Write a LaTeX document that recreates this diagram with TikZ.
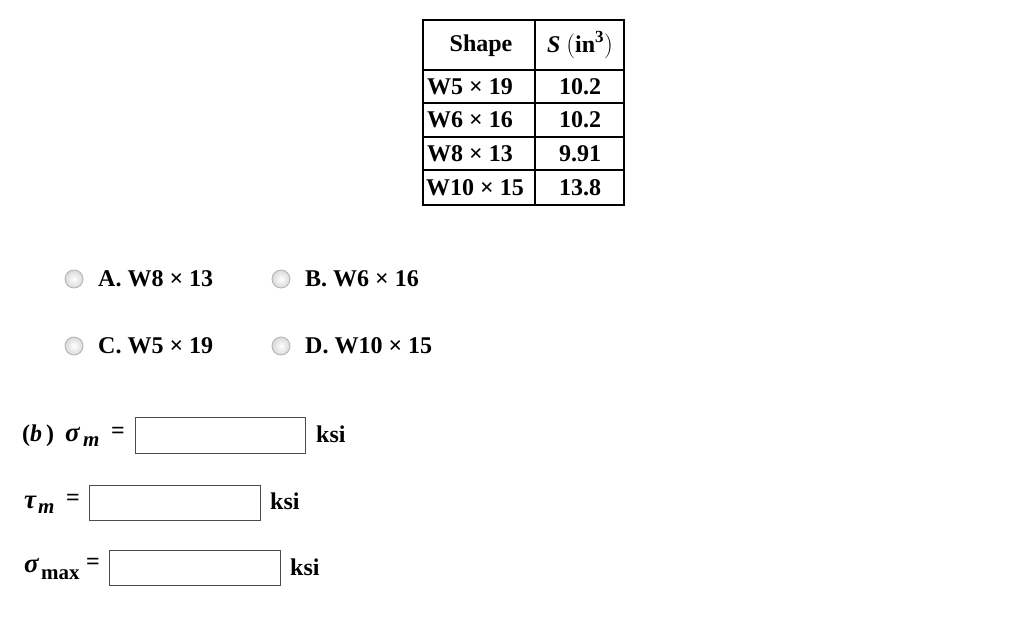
\documentclass[tikz,border=0pt]{standalone}
\usepackage{fontspec}
\setmainfont{Liberation Serif}
\begin{document}
\begin{tikzpicture}[x=1pt,y=-1pt,
  every node/.style={font=\bfseries\fontsize{24}{28}\selectfont,inner sep=0pt},
  tx/.style={anchor=west},
  sub/.style={anchor=west,font=\bfseries\fontsize{21}{24}\selectfont},
  gr/.style={anchor=west,font=\bfseries\itshape\fontsize{27}{30}\selectfont},
  radio/.style={circle,minimum size=18pt,draw=gray!60,line width=0.8pt,inner color=white,outer color=gray!30},
  inbox/.style={draw=black!70,line width=1pt,fill=white}]
\useasboundingbox (0,0) rectangle (1024,639);
% table
\draw[line width=1.2pt] (423,20) rectangle (624,205);
\draw[line width=1.2pt] (535,20) -- (535,205);
\foreach \yy in {70,103,137,170} \draw[line width=1.2pt] (423,\yy) -- (624,\yy);
\node (h1) at (481,46) {Shape};
\node (h2) at (580,45) {\textit{S} $\Bigl(\mbox{\bfseries\fontsize{24}{28}\selectfont in}^{\mbox{\bfseries\fontsize{17}{18}\selectfont 3}}\Bigr)$};
\node[tx] (r1) at (427,87) {W5 × 19};
\node[tx] (r2) at (427,120) {W6 × 16};
\node[tx] (r3) at (427,154) {W8 × 13};
\node[tx] (r4) at (426,188) {W10 × 15};
\node (v1) at (580,87) {10.2};
\node (v2) at (580,120) {10.2};
\node (v3) at (580,154) {9.91};
\node (v4) at (580,188) {13.8};
% options
\node[radio] (ra) at (74,279) {};
\node[tx] (ta) at (98,279) {A.\ W8 × 13};
\node[radio] (rb) at (281,279) {};
\node[tx] (tb) at (305,279) {B.\ W6 × 16};
\node[radio] (rc) at (74,346) {};
\node[tx] (tc) at (98,346) {C.\ W5 × 19};
\node[radio] (rd) at (281,346) {};
\node[tx] (td) at (305,346) {D.\ W10 × 15};
% answers
\node[tx] (la) at (22,436) {(\textit{b}\,)};
\node[gr] (las) at (65,435) {σ};
\node[sub] (lam) at (83,442) {\textit{m}};
\node[tx] (eqa) at (111,433) {=};
\draw[inbox] (135,417) rectangle (305,453);
\node[tx] (ka) at (316,434) {ksi};
\node[gr] (lb) at (24,502) {τ};
\node[sub] (lbm) at (38,509) {\textit{m}};
\node[tx] (eqb) at (66,500) {=};
\draw[inbox] (89,485) rectangle (260,520);
\node[tx] (kb) at (270,501) {ksi};
\node[gr] (lc) at (24,566) {σ};
\node[sub] (lcm) at (41,575) {max};
\node[tx] (eqc) at (86,564) {=};
\draw[inbox] (109,550) rectangle (280,585);
\node[tx] (kc) at (290,567) {ksi};
\end{tikzpicture}
\end{document}
